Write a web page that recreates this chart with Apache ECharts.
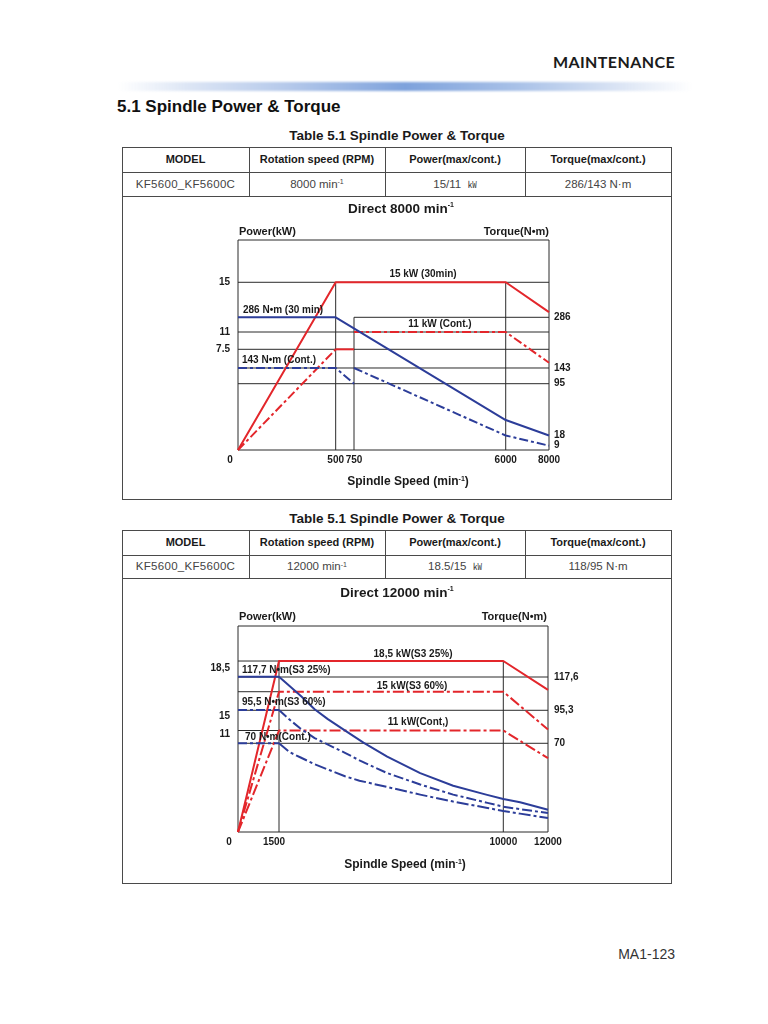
<!DOCTYPE html>
<html><head><meta charset="utf-8">
<script src="https://cdn.jsdelivr.net/npm/echarts@6.0.0/dist/echarts.min.js"></script>
<style>
html,body{margin:0;padding:0;background:#fff;}
body{width:768px;height:1024px;position:relative;overflow:hidden;font-family:"Liberation Sans",Arial,Helvetica,sans-serif;color:#222;}
.t{position:absolute;white-space:nowrap;}
#hdr{right:93px;top:52px;line-height:20px;font:700 16px Lato,"Open Sans",sans-serif;letter-spacing:0.4px;color:#1b1b1b;}
#bar{position:absolute;left:118px;top:82px;width:574px;height:9px;
 background:linear-gradient(90deg,rgba(255,255,255,0) 0%,#dde6f5 12%,#b4c8ea 30%,#7ea2dc 50%,#aac2e8 70%,#dde6f5 88%,rgba(255,255,255,0) 100%);filter:blur(1.2px);}
#sec{left:117px;top:97px;line-height:20px;font:700 17px "Liberation Sans",Arial,sans-serif;color:#111;}
.ttl{left:122px;width:550px;text-align:center;line-height:16px;font:700 13.5px "Liberation Sans",Arial,sans-serif;color:#1a1a1a;}
.frame{position:absolute;left:122px;width:550px;box-sizing:border-box;border:1px solid #4a4a4a;}
.hl{position:absolute;left:122px;width:550px;height:1px;background:#4a4a4a;}
.vl{position:absolute;width:1px;background:#4a4a4a;}
.c{position:absolute;text-align:center;white-space:nowrap;}
.hd{font-weight:700;font-size:11px;color:#1a1a1a;}
.dt{font-size:11.5px;color:#444;}
.dt sup{font-size:7px;vertical-align:top;position:relative;top:-2px;}
.kw{font-size:9px;font-family:"Noto Sans CJK KR","Noto Sans CJK SC",sans-serif;}
#foot{right:93px;top:946px;line-height:18px;font:400 14px "Liberation Sans",Arial,sans-serif;color:#333;}
#chart{position:absolute;left:0;top:0;width:768px;height:1024px;}
</style></head>
<body>
<div class="t" id="hdr">MAINTENANCE</div>
<div id="bar"></div>
<div class="t" id="sec">5.1 Spindle Power &amp; Torque</div>

<!-- Table 1 -->
<div class="t ttl" style="top:128px">Table 5.1 Spindle Power &amp; Torque</div>
<div class="frame" style="top:147px;height:353px"></div>
<div class="hl" style="top:172px"></div>
<div class="hl" style="top:196px"></div>
<div class="vl" style="left:249px;top:147px;height:49px"></div>
<div class="vl" style="left:385px;top:147px;height:49px"></div>
<div class="vl" style="left:525px;top:147px;height:49px"></div>
<div class="c hd" style="left:122px;width:127px;top:147px;line-height:25px">MODEL</div>
<div class="c hd" style="left:249px;width:136px;top:147px;line-height:25px">Rotation speed (RPM)</div>
<div class="c hd" style="left:385px;width:140px;top:147px;line-height:25px">Power(max/cont.)</div>
<div class="c hd" style="left:525px;width:146px;top:147px;line-height:25px">Torque(max/cont.)</div>
<div class="c dt" style="left:122px;width:127px;top:172px;line-height:24px;letter-spacing:0.3px">KF5600_KF5600C</div>
<div class="c dt" style="left:249px;width:136px;top:172px;line-height:24px">8000 min<sup>-1</sup></div>
<div class="c dt" style="left:385px;width:140px;top:172px;line-height:24px">15/11 &nbsp;<span class="kw">㎾</span></div>
<div class="c dt" style="left:525px;width:146px;top:172px;line-height:24px">286/143 N·m</div>

<!-- Table 2 -->
<div class="t ttl" style="top:511px">Table 5.1 Spindle Power &amp; Torque</div>
<div class="frame" style="top:530px;height:354px"></div>
<div class="hl" style="top:555px"></div>
<div class="hl" style="top:578px"></div>
<div class="vl" style="left:249px;top:530px;height:48px"></div>
<div class="vl" style="left:385px;top:530px;height:48px"></div>
<div class="vl" style="left:525px;top:530px;height:48px"></div>
<div class="c hd" style="left:122px;width:127px;top:530px;line-height:25px">MODEL</div>
<div class="c hd" style="left:249px;width:136px;top:530px;line-height:25px">Rotation speed (RPM)</div>
<div class="c hd" style="left:385px;width:140px;top:530px;line-height:25px">Power(max/cont.)</div>
<div class="c hd" style="left:525px;width:146px;top:530px;line-height:25px">Torque(max/cont.)</div>
<div class="c dt" style="left:122px;width:127px;top:555px;line-height:23px;letter-spacing:0.3px">KF5600_KF5600C</div>
<div class="c dt" style="left:249px;width:136px;top:555px;line-height:23px">12000 min<sup>-1</sup></div>
<div class="c dt" style="left:385px;width:140px;top:555px;line-height:23px">18.5/15 &nbsp;<span class="kw">㎾</span></div>
<div class="c dt" style="left:525px;width:146px;top:555px;line-height:23px">118/95 N·m</div>

<div class="t" id="foot">MA1-123</div>
<div id="chart"></div>

<script>
// ================= DATA =================
// Chart 1 : Direct 8000 min-1
const c1SpeedTicks = [0, 500, 750, 6000, 8000];
const c1SpeedTickLabels = ['0', '500', '750', '6000', '8000'];
const c1PowerTicks = [7.5, 11, 15];
const c1PowerTickLabels = ['7.5', '11', '15'];
const c1TorqueTicks = [9, 18, 95, 143, 286];
const c1TorqueTickLabels = ['9', '18', '95', '143', '286'];

const c1PowerMaxSpeed = [0, 500, 6000, 8000];
const c1PowerMaxKW = [0, 15, 15, 12.6];
const c1PowerContRampSpeed = [0, 500];
const c1PowerContRampKW = [0, 7.5];
const c1PowerContStepSpeed = [500, 750];
const c1PowerContStepKW = [7.5, 7.5];
const c1PowerContSpeed = [750, 6000, 8000];
const c1PowerContKW = [11, 11, 6.5];
const c1TorqueMaxSpeed = [0, 500, 6000, 8000];
const c1TorqueMaxNm = [286, 286, 41, 18];
const c1TorqueContLowSpeed = [0, 500, 750];
const c1TorqueContLowNm = [143, 143, 95];
const c1TorqueContSpeed = [750, 6000, 8000];
const c1TorqueContNm = [143, 18, 9];

// Chart 2 : Direct 12000 min-1
const c2SpeedTicks = [0, 1500, 10000, 12000];
const c2SpeedTickLabels = ['0', '1500', '10000', '12000'];
const c2PowerTicks = [11, 15, 18.5];
const c2PowerTickLabels = ['11', '15', '18,5'];
const c2TorqueTicks = [70, 95.3, 117.6];
const c2TorqueTickLabels = ['70', '95,3', '117,6'];

const c2PowerSpeed = [0, 1500, 10000, 12000];
const c2PowerS3_25 = [0, 18.5, 18.5, 15.2];
const c2PowerS3_60 = [0, 15, 15, 11.1];
const c2PowerCont = [0, 11, 11, 8.0];

const c2TorqueFlatSpeed = [0, 1500];
const c2TorqueS3_25Flat = [117.7, 117.7];
const c2TorqueS3_60Flat = [95.5, 95.5];
const c2TorqueContFlat = [70, 70];

const c2TorqueS3_25Speed = [1500, 1900, 2350, 2850, 3350, 3950, 4700, 5600, 6850, 8100, 9350, 10000, 10750, 12000];
const c2TorqueS3_25Nm    = [117.7, 111.5, 104.5, 96, 88.5, 80.5, 70.5, 59.5, 46.5, 36.5, 29.5, 26, 23.5, 17.5];
const c2TorqueS3_60Speed = [1500, 1850, 2300, 2850, 3450, 4000, 4550, 5600, 6850, 8100, 9400, 10000, 10750, 12000];
const c2TorqueS3_60Nm    = [95.5, 89, 81.5, 74, 68, 62.5, 56.5, 46.5, 37.5, 29.5, 23, 20, 18, 15];
const c2TorqueContSpeed  = [1500, 1900, 2300, 2850, 3450, 4000, 4550, 5600, 6850, 8100, 9400, 10000, 10750, 12000];
const c2TorqueContNm     = [70, 63, 59, 53.5, 48.5, 44, 40.5, 35.5, 29.5, 24, 19, 16.5, 14.5, 11];

// ================= LAYOUT (non-linear schematic axes) =================
// each axis of the drawing is piecewise linear: [value, fraction of plot]
const c1XScale = [[0,0],[500,0.3141],[750,0.373],[6000,0.8608],[8000,1]];
const c1PScale = [[0,0],[7.5,0.4795],[11,0.5619],[15,0.7986]];
const c1TScale = [[0,0],[9,0.0205],[18,0.069],[95,0.3157],[143,0.3905],[286,0.6319]];
const c2XScale = [[0,0],[1500,0.1323],[10000,0.8558],[12000,1]];
const c2PScale = [[0,0],[11,0.4927],[15,0.681],[18.5,0.830]];
const c2TScale = [[0,0],[70,0.4306],[95.3,0.5908],[117.6,0.7524]];

function pw(k, v){
  let i = 1;
  while (i < k.length - 1 && v > k[i][0]) i++;
  const a = k[i-1], b = k[i];
  return a[1] + (v - a[0]) * (b[1] - a[1]) / (b[0] - a[0]);
}

const RED = '#e3262b', BLUE = '#2c3d99', BLACK = '#2b2b2b';
const FONT = '"Liberation Sans", Arial, Helvetica, sans-serif';
const DASHDOT = [9, 3, 3, 3];

const axes = {
  c1: {x:c1XScale, P:c1PScale, T:c1TScale, xi:0, Pi:0, Ti:1},
  c2: {x:c2XScale, P:c2PScale, T:c2TScale, xi:1, Pi:2, Ti:3}
};

const series = [];
function addLine(chart, ax, xs, ys, color, width, type, z){
  const a = axes[chart];
  series.push({
    type:'line', xAxisIndex:a.xi, yAxisIndex: ax==='P'?a.Pi:a.Ti,
    data: xs.map((x,i)=>[pw(a.x,x), pw(a[ax],ys[i])]),
    symbol:'none', silent:true, z:z, smooth:false,
    lineStyle:{color:color, width:width, type:type||'solid', cap:'butt', join:'round'}
  });
}
function hRef(chart, ax, v, x0, x1){ addLine(chart, ax, [x0,x1], [v,v], BLACK, 1, 'solid', 2); }
function vRef(chart, ax, x, v0, v1){ addLine(chart, ax, [x,x], [v0,v1], BLACK, 1, 'solid', 2); }

// ---- chart 1 reference lines ----
hRef('c1','P',15,0,8000);
hRef('c1','T',286,750,8000);
hRef('c1','P',11,0,8000);
hRef('c1','P',7.5,0,8000);
hRef('c1','T',143,0,8000);
hRef('c1','T',95,0,8000);
vRef('c1','P',500,0,15);
vRef('c1','T',750,0,286);
vRef('c1','P',6000,0,15);
// ---- chart 1 curves ----
addLine('c1','P',c1PowerMaxSpeed,c1PowerMaxKW,RED,2,'solid',5);
addLine('c1','P',c1PowerContRampSpeed,c1PowerContRampKW,RED,2,DASHDOT,5);
addLine('c1','P',c1PowerContStepSpeed,c1PowerContStepKW,RED,2,'solid',5);
addLine('c1','P',c1PowerContSpeed,c1PowerContKW,RED,2,DASHDOT,5);
addLine('c1','T',c1TorqueMaxSpeed,c1TorqueMaxNm,BLUE,2,'solid',5);
addLine('c1','T',c1TorqueContLowSpeed,c1TorqueContLowNm,BLUE,2,DASHDOT,5);
addLine('c1','T',c1TorqueContSpeed,c1TorqueContNm,BLUE,2,DASHDOT,5);

// ---- chart 2 reference lines ----
hRef('c2','P',18.5,0,1500);
hRef('c2','T',117.6,0,12000);
hRef('c2','P',15,0,1500);
hRef('c2','T',95.3,0,12000);
hRef('c2','P',11,0,1500);
hRef('c2','T',70,0,12000);
vRef('c2','P',1500,0,18.5);
vRef('c2','P',10000,0,18.5);
// ---- chart 2 curves ----
addLine('c2','P',c2PowerSpeed,c2PowerS3_25,RED,2,'solid',5);
addLine('c2','P',c2PowerSpeed,c2PowerS3_60,RED,2,[11,3,3,3],5);
addLine('c2','P',c2PowerSpeed,c2PowerCont,RED,2,[11,3,3,3],5);
addLine('c2','T',c2TorqueFlatSpeed,c2TorqueS3_25Flat,BLUE,2,'solid',5);
addLine('c2','T',c2TorqueFlatSpeed,c2TorqueS3_60Flat,BLUE,2,DASHDOT,5);
addLine('c2','T',c2TorqueFlatSpeed,c2TorqueContFlat,BLUE,2,DASHDOT,5);
addLine('c2','T',c2TorqueS3_25Speed,c2TorqueS3_25Nm,BLUE,2,'solid',5);
addLine('c2','T',c2TorqueS3_60Speed,c2TorqueS3_60Nm,BLUE,2,[10,3,3,3],5);
addLine('c2','T',c2TorqueContSpeed,c2TorqueContNm,BLUE,2,[12,3,3,3],5);

// ---- axes ----
// per-label nudges (pixels): x-axis labels shifted left, y labels shifted down
const labelNudge = {c1x:{'0':-8}, c2x:{'0':-9,'1500':-5}, c2P:{'18,5':7,'15':25,'11':4}};
const lblStyle = {fontSize:10, fontWeight:'bold', fontFamily:FONT, color:'#1a1a1a'};

function makeXAxis(grid, scale, ticks, texts, nudge){
  const pos = ticks.map(v=>pw(scale,v));
  const rich = {};
  texts.forEach((t,i)=>{
    const dx = (nudge && nudge[t]) || 0;
    rich['l'+i] = Object.assign({}, lblStyle, {padding:[0, dx<0?-2*dx:0, 0, dx>0?2*dx:0]});
  });
  return {type:'value', gridIndex:grid, min:0, max:1, position:'bottom',
    axisLine:{show:false}, axisTick:{show:false}, splitLine:{show:false},
    axisLabel:Object.assign({}, lblStyle, {customValues:pos, margin:5, hideOverlap:false,
      formatter:(v)=>{const i=pos.findIndex(p=>Math.abs(p-v)<1e-9); return i<0?'':'{l'+i+'|'+texts[i]+'}';},
      rich:rich})};
}
function makeYAxis(grid, side, scale, ticks, texts, nudge, margin){
  const pos = ticks.map((v,i)=>pw(scale,v) - (((nudge && nudge[texts[i]])||0)/ (grid===0?210:206)));
  return {type:'value', gridIndex:grid, min:0, max:1, position:side,
    axisLine:{show:false}, axisTick:{show:false}, splitLine:{show:false},
    axisLabel:Object.assign({}, lblStyle, {customValues:pos, margin:margin, hideOverlap:false,
      formatter:(v)=>{const i=pos.findIndex(p=>Math.abs(p-v)<1e-9); return i<0?'':texts[i];}})};
}

function txt(x, y, text, size, align, rich){
  return {type:'text', x:x, y:y, z:100, silent:true,
    style:{text:text, fontSize:size, fontWeight:'bold', fontFamily:FONT, fill:'#1a1a1a',
      align:align, textAlign:align, verticalAlign:'middle', textVerticalAlign:'middle', rich:rich}};
}
function supRich(size){
  return {s:{fontSize:Math.round(size*0.55), fontWeight:'bold', fontFamily:FONT, fill:'#1a1a1a', color:'#1a1a1a', verticalAlign:'top', padding:[0,0,Math.round(size*0.45),0]}};
}

const graphics = [
  // chart 1
  txt(401, 209, 'Direct 8000 min{s|-1}', 13.5, 'center', supRich(13.5)),
  txt(239, 232, 'Power(kW)', 11, 'left'),
  txt(549, 232, 'Torque(N•m)', 11, 'right'),
  txt(408, 482, 'Spindle Speed (min{s|-1})', 12, 'center', supRich(12)),
  txt(423, 274, '15 kW (30min)', 10, 'center'),
  txt(243, 310, '286 N•m (30 min)', 10, 'left'),
  txt(440, 324, '11 kW (Cont.)', 10, 'center'),
  txt(242, 360, '143 N•m (Cont.)', 10, 'left'),
  // chart 2
  txt(397, 593, 'Direct 12000 min{s|-1}', 13.5, 'center', supRich(13.5)),
  txt(239, 617, 'Power(kW)', 11, 'left'),
  txt(547, 617, 'Torque(N•m)', 11, 'right'),
  txt(405, 865, 'Spindle Speed (min{s|-1})', 12, 'center', supRich(12)),
  txt(413, 654, '18,5 kW(S3 25%)', 10, 'center'),
  txt(242, 670, '117,7 N•m(S3 25%)', 10, 'left'),
  txt(412, 686, '15 kW(S3 60%)', 10, 'center'),
  txt(242, 702, '95,5 N•m(S3 60%)', 10, 'left'),
  txt(418, 722, '11 kW(Cont,)', 10, 'center'),
  txt(245, 737, '70 N•m(Cont.)', 10, 'left')
];

const option = {
  animation:false,
  backgroundColor:'transparent',
  grid:[
    {left:238, top:240, width:311, height:210, show:true, borderColor:BLACK, borderWidth:1, backgroundColor:'transparent'},
    {left:238, top:626, width:310, height:206, show:true, borderColor:BLACK, borderWidth:1, backgroundColor:'transparent'}
  ],
  xAxis:[
    makeXAxis(0, c1XScale, c1SpeedTicks, c1SpeedTickLabels, labelNudge.c1x),
    makeXAxis(1, c2XScale, c2SpeedTicks, c2SpeedTickLabels, labelNudge.c2x)
  ],
  yAxis:[
    makeYAxis(0,'left', c1PScale, c1PowerTicks, c1PowerTickLabels, null, 8),
    makeYAxis(0,'right', c1TScale, c1TorqueTicks, c1TorqueTickLabels, null, 5),
    makeYAxis(1,'left', c2PScale, c2PowerTicks, c2PowerTickLabels, labelNudge.c2P, 8),
    makeYAxis(1,'right', c2TScale, c2TorqueTicks, c2TorqueTickLabels, null, 6)
  ],
  series: series,
  graphic: graphics
};

const chart = echarts.init(document.getElementById('chart'), null, {renderer:'canvas'});
chart.setOption(option);
</script>
</body></html>
